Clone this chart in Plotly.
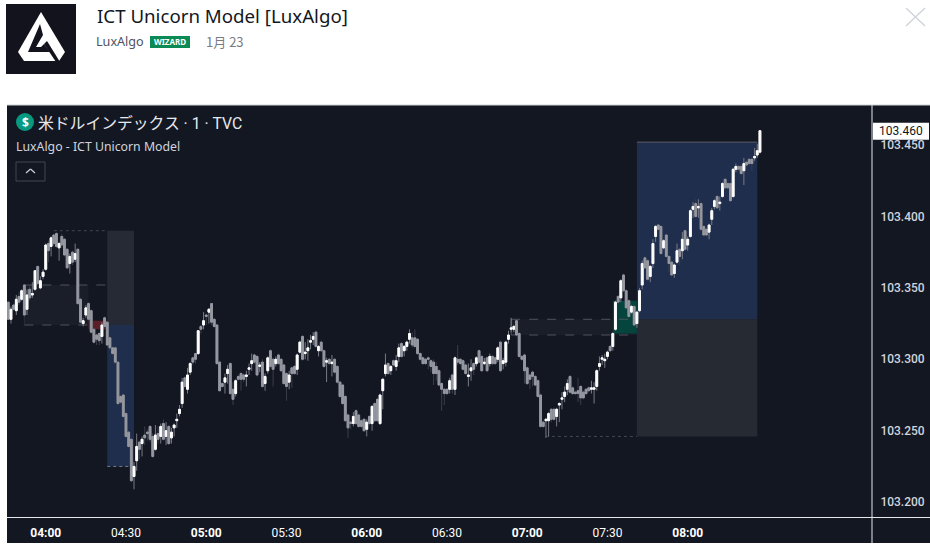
import pandas as pd
import plotly.graph_objects as go

opens = [103.340,103.328,103.338,103.334,103.344,103.342,103.352,103.335,103.349,103.345,
103.349,103.365,103.350,103.358,103.363,103.381,103.379,103.387,103.388,103.378,
103.386,103.384,103.377,103.367,103.375,103.370,103.377,103.342,103.325,103.331,
103.339,103.334,103.321,103.317,103.318,103.316,103.329,103.326,103.315,103.308,
103.308,103.298,103.274,103.275,103.262,103.249,103.244,103.218,103.229,103.242,
103.241,103.247,103.249,103.253,103.246,103.237,103.248,103.246,103.255,103.246,
103.253,103.245,103.252,103.257,103.262,103.269,103.287,103.279,103.291,103.301,
103.304,103.304,103.323,103.324,103.331,103.333,103.339,103.328,103.324,103.298,
103.283,103.284,103.290,103.297,103.279,103.276,103.288,103.290,103.289,103.288,
103.293,103.297,103.303,103.302,103.295,103.298,103.283,103.292,103.306,103.300,
103.297,103.303,103.300,103.296,103.290,103.284,103.294,103.295,103.293,103.305,
103.316,103.304,103.306,103.312,103.314,103.319,103.306,103.312,103.306,103.298,
103.300,103.297,103.300,103.295,103.284,103.282,103.274,103.261,103.256,103.255,
103.264,103.261,103.257,103.258,103.251,103.260,103.255,103.269,103.272,103.255,
103.278,103.290,103.297,103.292,103.299,103.295,103.302,103.311,103.306,103.309,
103.314,103.315,103.315,103.314,103.304,103.301,103.300,103.301,103.299,103.298,
103.295,103.292,103.283,103.279,103.279,103.279,103.289,103.279,103.300,103.300,
103.299,103.296,103.288,103.292,103.297,103.297,103.306,103.302,103.297,103.301,
103.297,103.302,103.301,103.300,103.312,103.297,103.298,103.314,103.321,103.321,
103.327,103.318,103.302,103.303,103.294,103.289,103.291,103.288,103.285,103.275,
103.256,103.257,103.257,103.265,103.265,103.260,103.268,103.272,103.274,103.279,
103.288,103.280,103.277,103.278,103.281,103.277,103.279,103.280,103.279,103.279,
103.281,103.295,103.300,103.299,103.302,103.309,103.309,103.321,103.344,103.343,
103.359,103.348,103.341,103.333,103.337,103.325,103.334,103.352,103.371,103.369,
103.358,103.367,103.386,103.394,103.393,103.378,103.387,103.372,103.368,103.360,
103.368,103.377,103.376,103.390,103.380,103.386,103.405,103.409,103.406,103.409,
103.393,103.391,103.389,103.398,103.407,103.414,103.409,103.414,103.426,103.423,
103.423,103.414,103.433,103.435,103.435,103.432,103.438,103.440,103.440,103.441,103.443,103.445]

closes = [103.328,103.335,103.335,103.342,103.340,103.348,103.331,103.345,103.343,103.346,
103.362,103.353,103.355,103.361,103.380,103.376,103.385,103.381,103.379,103.381,
103.380,103.373,103.364,103.372,103.368,103.374,103.339,103.326,103.327,103.336,
103.328,103.319,103.312,103.314,103.313,103.324,103.323,103.310,103.308,103.304,
103.298,103.269,103.270,103.260,103.246,103.239,103.215,103.225,103.239,103.237,
103.244,103.245,103.248,103.244,103.232,103.247,103.244,103.253,103.244,103.250,
103.241,103.249,103.254,103.258,103.265,103.284,103.281,103.289,103.297,103.298,
103.300,103.320,103.321,103.327,103.330,103.335,103.326,103.323,103.297,103.278,
103.281,103.287,103.293,103.276,103.272,103.285,103.286,103.286,103.286,103.289,
103.294,103.299,103.298,103.289,103.296,103.281,103.288,103.301,103.295,103.293,
103.300,103.297,103.292,103.283,103.281,103.289,103.290,103.290,103.303,103.312,
103.300,103.305,103.308,103.313,103.316,103.309,103.309,103.306,103.295,103.299,
103.297,103.298,103.291,103.284,103.274,103.269,103.257,103.252,103.255,103.260,
103.255,103.253,103.253,103.250,103.256,103.255,103.267,103.257,103.257,103.275,
103.286,103.296,103.290,103.295,103.296,103.299,103.308,103.302,103.309,103.312,
103.318,103.310,103.309,103.304,103.300,103.297,103.297,103.300,103.295,103.290,
103.290,103.282,103.279,103.276,103.276,103.285,103.279,103.301,103.298,103.297,
103.293,103.290,103.289,103.294,103.293,103.301,103.298,103.292,103.298,103.292,
103.302,103.297,103.297,103.308,103.292,103.299,103.312,103.317,103.322,103.323,
103.317,103.302,103.300,103.292,103.283,103.286,103.288,103.282,103.274,103.253,
103.253,103.258,103.262,103.258,103.258,103.265,103.269,103.273,103.277,103.283,
103.277,103.276,103.276,103.276,103.273,103.273,103.276,103.278,103.280,103.280,
103.292,103.297,103.301,103.300,103.305,103.306,103.318,103.340,103.340,103.355,
103.348,103.336,103.330,103.337,103.324,103.333,103.348,103.367,103.364,103.356,
103.365,103.381,103.393,103.391,103.374,103.383,103.372,103.367,103.359,103.366,
103.376,103.372,103.384,103.377,103.384,103.404,103.407,103.400,103.407,103.391,
103.387,103.387,103.394,103.404,103.411,103.406,103.410,103.423,103.420,103.420,
103.411,103.433,103.435,103.433,103.430,103.437,103.436,103.437,103.437,103.442,103.446,103.460]

highs = [103.340,103.337,103.339,103.345,103.347,103.349,103.352,103.349,103.351,103.354,
103.362,103.365,103.358,103.363,103.381,103.383,103.386,103.388,103.389,103.382,
103.388,103.385,103.378,103.374,103.376,103.381,103.378,103.343,103.329,103.338,
103.340,103.335,103.322,103.318,103.319,103.326,103.330,103.327,103.316,103.309,
103.309,103.299,103.275,103.276,103.263,103.250,103.245,103.228,103.248,103.243,
103.246,103.253,103.251,103.254,103.248,103.254,103.253,103.255,103.258,103.256,
103.254,103.252,103.255,103.262,103.268,103.287,103.288,103.294,103.298,103.302,
103.304,103.320,103.324,103.333,103.332,103.336,103.339,103.329,103.325,103.299,
103.284,103.290,103.296,103.298,103.284,103.286,103.289,103.291,103.290,103.292,
103.297,103.304,103.304,103.303,103.298,103.300,103.290,103.302,103.307,103.301,
103.302,103.304,103.301,103.297,103.291,103.292,103.295,103.296,103.304,103.313,
103.317,103.312,103.314,103.317,103.319,103.320,103.310,103.313,103.307,103.301,
103.301,103.303,103.301,103.296,103.285,103.283,103.275,103.262,103.257,103.263,
103.265,103.262,103.258,103.259,103.258,103.261,103.268,103.270,103.273,103.276,
103.287,103.304,103.298,103.296,103.300,103.303,103.311,103.312,103.310,103.313,
103.321,103.319,103.321,103.315,103.305,103.302,103.301,103.302,103.300,103.300,
103.298,103.293,103.284,103.280,103.280,103.287,103.290,103.302,103.310,103.301,
103.300,103.297,103.297,103.300,103.298,103.302,103.307,103.303,103.301,103.302,
103.304,103.303,103.302,103.309,103.313,103.301,103.313,103.320,103.329,103.324,
103.327,103.319,103.303,103.304,103.295,103.290,103.292,103.289,103.286,103.276,
103.257,103.259,103.263,103.266,103.266,103.266,103.270,103.277,103.281,103.286,
103.289,103.281,103.278,103.287,103.282,103.278,103.280,103.281,103.285,103.284,
103.293,103.302,103.303,103.304,103.306,103.310,103.319,103.341,103.345,103.356,
103.360,103.349,103.342,103.338,103.338,103.334,103.350,103.369,103.372,103.370,
103.366,103.384,103.394,103.395,103.394,103.384,103.388,103.373,103.369,103.367,
103.381,103.378,103.389,103.391,103.386,103.405,103.410,103.412,103.412,103.410,
103.394,103.392,103.395,103.406,103.412,103.415,103.414,103.424,103.427,103.424,
103.424,103.434,103.437,103.436,103.436,103.441,103.439,103.441,103.441,103.448,103.451,103.460]

lows = [103.328,103.325,103.334,103.331,103.338,103.341,103.330,103.331,103.341,103.343,
103.348,103.352,103.349,103.356,103.362,103.368,103.372,103.379,103.378,103.369,
103.378,103.372,103.363,103.360,103.366,103.368,103.338,103.325,103.323,103.329,
103.327,103.318,103.311,103.310,103.310,103.311,103.322,103.309,103.307,103.303,
103.297,103.268,103.269,103.259,103.245,103.238,103.214,103.209,103.222,103.230,
103.232,103.240,103.243,103.242,103.231,103.236,103.241,103.241,103.243,103.240,
103.240,103.241,103.246,103.252,103.260,103.266,103.280,103.276,103.289,103.296,
103.297,103.303,103.318,103.321,103.324,103.325,103.324,103.322,103.296,103.277,
103.280,103.276,103.283,103.275,103.268,103.274,103.285,103.278,103.284,103.281,
103.289,103.292,103.297,103.288,103.291,103.280,103.278,103.290,103.294,103.281,
103.295,103.296,103.291,103.282,103.271,103.279,103.280,103.289,103.289,103.304,
103.299,103.300,103.299,103.307,103.310,103.308,103.302,103.305,103.294,103.284,
103.296,103.288,103.290,103.283,103.273,103.268,103.256,103.245,103.251,103.253,
103.254,103.252,103.252,103.249,103.246,103.254,103.250,103.256,103.256,103.254,
103.265,103.288,103.289,103.289,103.295,103.292,103.298,103.301,103.302,103.306,
103.311,103.308,103.308,103.303,103.299,103.296,103.296,103.293,103.291,103.282,
103.285,103.281,103.264,103.268,103.275,103.276,103.276,103.275,103.296,103.296,
103.292,103.289,103.281,103.285,103.289,103.295,103.297,103.291,103.296,103.291,
103.295,103.296,103.296,103.298,103.291,103.293,103.295,103.311,103.319,103.319,
103.316,103.301,103.299,103.283,103.282,103.279,103.281,103.281,103.273,103.252,
103.252,103.245,103.246,103.256,103.257,103.253,103.256,103.265,103.270,103.275,
103.276,103.275,103.275,103.270,103.268,103.272,103.275,103.277,103.276,103.269,
103.278,103.292,103.296,103.294,103.300,103.305,103.306,103.320,103.339,103.340,
103.347,103.335,103.329,103.332,103.323,103.322,103.333,103.349,103.363,103.355,
103.354,103.364,103.382,103.390,103.373,103.377,103.371,103.361,103.358,103.357,
103.367,103.366,103.370,103.376,103.376,103.385,103.399,103.399,103.399,103.390,
103.386,103.386,103.384,103.394,103.405,103.405,103.404,103.413,103.419,103.419,
103.410,103.413,103.431,103.432,103.429,103.422,103.435,103.436,103.432,103.439,103.441,103.444]

price_ticks = [103.200, 103.250, 103.300, 103.350, 103.400, 103.450]
time_ticks = ["04:00", "04:30", "05:00", "05:30", "06:00", "06:30", "07:00", "07:30", "08:00"]
time_labels = ["<b>04:00</b>", "04:30", "<b>05:00</b>", "05:30", "<b>06:00</b>", "06:30", "<b>07:00</b>", "07:30", "<b>08:00</b>"]
last_price = 103.460

DAY = "2024-01-23 "
times = pd.date_range(DAY + "03:46", periods=len(opens), freq="min")

BG = "#131722"
UP = "#ffffff"
DOWN = "#9598a1"
TEXT = "#d1d4dc"

# px helpers, the page furniture is placed in window pixels
L, R, T, B = 7, 872, 105, 517
def fx(x):
    return (x - L) / (R - L)
def fy(y):
    return (B - y) / (B - T)

fig = go.Figure()
# wicks
fig.add_trace(go.Candlestick(
    x=times, open=opens, high=highs, low=lows, close=closes,
    increasing=dict(line=dict(color="#787b86", width=1), fillcolor="#787b86"),
    decreasing=dict(line=dict(color="#3a3e4a", width=1), fillcolor="#3a3e4a"),
    hoverinfo="skip", showlegend=False))
# bodies, same candles again without the wicks so they sit over the wick trace
fig.add_trace(go.Candlestick(
    x=times, open=opens, close=closes,
    high=[max(o, c) for o, c in zip(opens, closes)],
    low=[min(o, c) for o, c in zip(opens, closes)],
    increasing=dict(line=dict(color=UP, width=1), fillcolor=UP),
    decreasing=dict(line=dict(color=DOWN, width=1), fillcolor=DOWN),
    hoverinfo="skip", showlegend=False))

def zone(t0, t1, p0, p1, color, **kw):
    fig.add_shape(type="rect", x0=DAY + t0, x1=DAY + t1, y0=p0, y1=p1,
                  fillcolor=color, line_width=0, layer="below", **kw)

def level(t0, t1, p, dash, color="#50535e", width=1):
    fig.add_shape(type="line", x0=DAY + t0, x1=DAY + t1, y0=p, y1=p,
                  line=dict(color=color, width=width, dash=dash), layer="below")

# first setup
zone("04:23", "04:33", 103.324, 103.390, "#262a35")
zone("04:23", "04:33", 103.225, 103.324, "#1f2e4d")
zone("03:52", "04:16", 103.324, 103.352, "#1a1e29")
zone("04:16", "04:23", 103.321, 103.327, "#5a1f28")
level("03:52", "04:23", 103.352, "dash")
level("03:52", "04:16", 103.324, "dash")
level("04:03", "04:23", 103.390, "dot", "#434651")
level("04:23", "04:33", 103.225, "dot", "#787b86")
fig.add_shape(type="line", x0=DAY + "03:52", x1=DAY + "03:52", y0=103.324, y1=103.352,
              line=dict(color="#2a2e39", width=1), layer="below")

# second setup
zone("07:41", "08:26", 103.328, 103.452, "#1f2e4d")
zone("07:41", "08:26", 103.246, 103.328, "#262a33")
zone("06:54", "07:41", 103.317, 103.328, "#1a1e29")
zone("07:32", "07:41", 103.318, 103.341, "#06443e")
level("06:54", "07:41", 103.328, "dash")
level("06:54", "07:41", 103.317, "dash")
level("07:07", "07:41", 103.246, "dot", "#434651")
level("07:41", "08:26", 103.452, "solid", "#5d606b")
fig.add_shape(type="line", x0=DAY + "06:54", x1=DAY + "06:54", y0=103.317, y1=103.328,
              line=dict(color="#50535e", width=1), layer="below")

def pane(x0, y0, x1, y1, color, layer="below", **kw):
    fig.add_shape(type="rect", xref="paper", yref="paper", x0=fx(x0), x1=fx(x1), y0=fy(y0), y1=fy(y1),
                  fillcolor=color, line_width=0, layer=layer, **kw)

def poly(points, color):
    path = "M " + " L ".join(f"{fx(x)},{fy(y)}" for x, y in points) + " Z"
    fig.add_shape(type="path", xref="paper", yref="paper", path=path, fillcolor=color, line_width=0, layer="above")

def stroke(x0, y0, x1, y1, color, width=1, dash="solid"):
    fig.add_shape(type="line", xref="paper", yref="paper", x0=fx(x0), x1=fx(x1), y0=fy(y0), y1=fy(y1),
                  line=dict(color=color, width=width, dash=dash), layer="above")

def label(x, y, s, size, color, family="Noto Sans", anchor="left"):
    fig.add_annotation(xref="paper", yref="paper", x=fx(x), y=fy(y), text=s, showarrow=False,
                       xanchor=anchor, yanchor="middle", borderpad=0,
                       font=dict(family=family, size=size, color=color))

# dark backing for the axis strips and separators
pane(7, 105, 930, 543, BG)
stroke(872, 105, 872, 543, "#e8e8ea")
stroke(7, 517.5, 930, 517.5, "#e8e8ea")
stroke(7, 105, 930, 105, "#d0d2d6")

# header logo
fig.add_shape(type="rect", xref="paper", yref="paper", x0=fx(6), x1=fx(76), y0=fy(4), y1=fy(74),
              fillcolor="#12131c", line_width=0, layer="above")
poly([(41, 12), (65, 52), (59, 61), (24, 61), (18, 52)], "#ffffff")
poly([(40, 24), (28, 52), (50, 52), (44, 44), (41, 47), (36, 47), (43, 35)], "#12131c")
poly([(47, 41), (60, 62), (56, 62), (44, 44)], "#12131c")

label(96, 15, "ICT Unicorn Model [LuxAlgo]", 18.7, "#131722", "Noto Sans")
label(95, 41, "LuxAlgo", 12.6, "#50535e", "Noto Sans")
fig.add_shape(type="rect", xref="paper", yref="paper", x0=fx(150), x1=fx(190), y0=fy(36), y1=fy(48),
              fillcolor="#0b8a55", line_width=0, layer="above")
label(170, 42, "<b>WIZARD</b>", 8, "#ffffff", "Noto Sans", "center")
label(205, 41, "1月 23", 13, "#787b86", "Noto Sans CJK JP")
stroke(906, 8, 925, 26, "#d1d4dc", 1.5)
stroke(925, 8, 906, 26, "#d1d4dc", 1.5)

# chart legend
fig.add_shape(type="circle", xref="paper", yref="paper", x0=fx(16), x1=fx(34), y0=fy(113), y1=fy(131),
              fillcolor="#089981", line_width=0, layer="above")
label(25, 122, "<b>$</b>", 12, "#ffffff", "Noto Sans", "center")
label(37, 122, "米ドルインデックス<span style='font-family:Roboto'> · 1 · TVC</span>", 15.8, "#e8e9ee", "Noto Sans CJK JP")
label(15, 147, "LuxAlgo - ICT Unicorn Model", 12.3, TEXT, "Noto Sans")
fig.add_shape(type="rect", xref="paper", yref="paper", x0=fx(16), x1=fx(45), y0=fy(162), y1=fy(181),
              fillcolor="rgba(0,0,0,0)", line=dict(color="#434651", width=1), layer="above")
stroke(26, 173, 30.5, 169, TEXT, 1.2)
stroke(30.5, 169, 35, 173, TEXT, 1.2)

# last price tag
y_last = T + (103.478 - last_price) / (103.478 - 103.1896) * (B - T)
fig.add_shape(type="rect", xref="paper", yref="paper", x0=fx(873), x1=fx(929), y0=fy(y_last - 8), y1=fy(y_last + 9),
              fillcolor="#ffffff", line_width=0, layer="above")
label(901, y_last + 0.5, f"{last_price:.3f}", 12, "#131722", "Roboto", "center")

fig.update_layout(
    width=930, height=546,
    margin=dict(l=L, r=930 - R, t=T, b=546 - B),
    paper_bgcolor="#ffffff",
    plot_bgcolor=BG,
    boxmode="overlay",
    boxgap=0,
    showlegend=False,
    font=dict(family="Roboto", size=12, color=TEXT),
    xaxis=dict(
        type="date",
        automargin=False,
        range=[DAY + "03:45:31", DAY + "09:08:54"],
        rangeslider_visible=False,
        showgrid=False, zeroline=False, showline=False,
        tickvals=[DAY + t for t in time_ticks], ticktext=time_labels,
        ticks="outside", ticklen=5, tickcolor=BG,
        tickfont=dict(family="Roboto", size=12, color="#ffffff"),
    ),
    yaxis=dict(
        side="right",
        automargin=False,
        range=[103.1896, 103.478],
        showgrid=False, zeroline=False, showline=False,
        tickvals=price_ticks, tickformat=".3f",
        ticks="outside", ticklen=5, tickcolor=BG,
        tickfont=dict(family="Roboto", size=12, color=TEXT, weight=500),
    ),
)

fig.write_html("out.html", config=dict(displayModeBar=False),
               post_script="document.body.style.margin='0';document.documentElement.style.overflow='hidden'")
